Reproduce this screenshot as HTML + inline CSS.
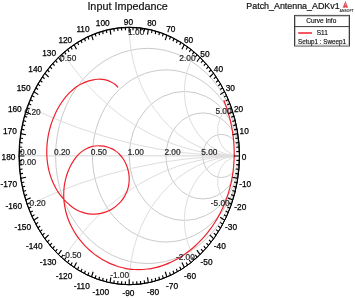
<!DOCTYPE html>
<html><head><meta charset="utf-8"><title>Input Impedance</title>
<style>
html,body{margin:0;padding:0;background:#fff;}
body{width:355px;height:298px;overflow:hidden;}
svg{display:block;filter:blur(0.3px);}
text{font-family:"Liberation Sans",Arial,sans-serif;}
.ang{font-size:8.3px;fill:#000;text-anchor:middle;stroke:#000;stroke-width:0.25px;}
.inn{font-size:8.3px;fill:#262626;stroke:#262626;stroke-width:0.2px;}
.leg{font-size:6.5px;fill:#111;text-anchor:middle;stroke:#111;stroke-width:0.15px;}
</style></head><body>
<svg width="355" height="298" viewBox="0 0 355 298">
<rect width="355" height="298" fill="#fff"/>

<g fill="none" stroke-width="1">
<line x1="18.8" y1="155.85" x2="239.6" y2="155.85" stroke="#d4d4d4"/>
<ellipse cx="147.6" cy="155.95" rx="92" ry="107.58" stroke="#cacaca"/>
<ellipse cx="166" cy="155.95" rx="73.6" ry="86.07" stroke="#cacaca"/>
<ellipse cx="184.4" cy="155.95" rx="55.2" ry="64.55" stroke="#cacaca"/>
<ellipse cx="202.8" cy="155.95" rx="36.8" ry="43.03" stroke="#cacaca"/>
<ellipse cx="221.2" cy="155.95" rx="18.4" ry="21.52" stroke="#cacaca"/>
<path d="M239.6 155.95 A552 645.5 0 0 1 27.29 106.3" stroke="#dfdddd"/>
<path d="M239.6 155.95 A552 645.5 0 0 0 27.29 205.6" stroke="#dfdddd"/>
<path d="M239.6 155.95 A220.8 258.2 0 0 1 62.96 52.67" stroke="#dfdddd"/>
<path d="M239.6 155.95 A220.8 258.2 0 0 0 62.96 259.23" stroke="#dfdddd"/>
<path d="M239.6 155.95 A110.4 129.1 0 0 1 129.2 26.85" stroke="#dfdddd"/>
<path d="M239.6 155.95 A110.4 129.1 0 0 0 129.2 285.05" stroke="#dfdddd"/>
<path d="M239.6 155.95 A55.2 64.55 0 0 1 195.44 52.67" stroke="#dfdddd"/>
<path d="M239.6 155.95 A55.2 64.55 0 0 0 195.44 259.23" stroke="#dfdddd"/>
<path d="M239.6 155.95 A22.08 25.82 0 0 1 231.11 106.3" stroke="#dfdddd"/>
<path d="M239.6 155.95 A22.08 25.82 0 0 0 231.11 205.6" stroke="#dfdddd"/>
</g>
<path d="M223.81 100.33C224.08 101.03 224.92 103.13 225.44 104.54C225.96 105.95 226.46 107.37 226.93 108.8C227.41 110.23 227.86 111.67 228.29 113.11C228.72 114.55 229.13 116 229.51 117.46C229.9 118.91 230.26 120.37 230.59 121.84C230.93 123.31 231.25 124.78 231.54 126.25C231.83 127.73 232.1 129.21 232.34 130.69C232.58 132.17 232.8 133.66 233 135.15C233.2 136.64 233.37 138.13 233.52 139.63C233.67 141.12 233.8 142.62 233.9 144.11C234 145.61 234.08 147.11 234.13 148.61C234.19 150.1 234.22 151.6 234.23 153.1C234.23 154.6 234.21 156.1 234.17 157.6C234.13 159.09 234.06 160.59 233.97 162.08C233.88 163.57 233.77 165.07 233.63 166.55C233.49 168.04 233.32 169.53 233.13 171.01C232.95 172.49 232.73 173.97 232.49 175.45C232.26 176.92 231.99 178.39 231.7 179.86C231.42 181.32 231.1 182.78 230.77 184.23C230.43 185.69 230.06 187.13 229.68 188.58C229.29 190.02 228.88 191.45 228.44 192.88C228 194.3 227.53 195.72 227.05 197.13C226.56 198.54 226.04 199.95 225.5 201.34C224.96 202.73 224.39 204.12 223.8 205.49C223.21 206.87 222.59 208.23 221.95 209.59C221.31 210.94 220.64 212.28 219.94 213.62C219.25 214.95 218.53 216.27 217.78 217.58C217.04 218.88 216.26 220.18 215.47 221.46C214.67 222.74 213.85 224.01 213 225.26C212.15 226.51 211.28 227.75 210.39 228.97C209.5 230.19 208.58 231.39 207.64 232.57C206.7 233.75 205.74 234.92 204.75 236.06C203.77 237.21 202.76 238.33 201.73 239.44C200.71 240.54 199.66 241.62 198.59 242.68C197.52 243.74 196.43 244.77 195.32 245.79C194.21 246.8 193.08 247.78 191.93 248.74C190.78 249.7 189.62 250.64 188.43 251.55C187.24 252.45 186.04 253.33 184.82 254.19C183.6 255.04 182.36 255.86 181.1 256.65C179.85 257.44 178.57 258.2 177.28 258.93C175.99 259.66 174.69 260.36 173.36 261.02C172.04 261.69 170.7 262.32 169.34 262.91C167.98 263.51 166.6 264.07 165.2 264.59C163.81 265.12 162.39 265.61 160.96 266.06C159.53 266.51 158.07 266.92 156.6 267.3C155.14 267.67 153.65 268 152.15 268.29C150.65 268.58 149.14 268.83 147.63 269.03C146.12 269.23 144.6 269.38 143.08 269.49C141.56 269.59 140.04 269.65 138.53 269.65C137.02 269.65 135.51 269.6 134.01 269.5C132.51 269.4 131.02 269.25 129.54 269.05C128.06 268.86 126.58 268.61 125.12 268.31C123.66 268.02 122.2 267.67 120.77 267.29C119.33 266.9 117.9 266.46 116.49 265.99C115.08 265.51 113.68 264.99 112.3 264.43C110.92 263.87 109.56 263.26 108.21 262.62C106.87 261.98 105.54 261.29 104.23 260.57C102.93 259.85 101.64 259.09 100.38 258.3C99.11 257.5 97.87 256.67 96.65 255.8C95.43 254.94 94.23 254.03 93.06 253.1C91.89 252.17 90.75 251.2 89.63 250.2C88.52 249.2 87.42 248.17 86.36 247.12C85.3 246.06 84.27 244.97 83.27 243.86C82.27 242.74 81.3 241.6 80.36 240.43C79.43 239.26 78.52 238.07 77.65 236.85C76.78 235.64 75.95 234.39 75.15 233.13C74.35 231.87 73.59 230.58 72.87 229.28C72.14 227.97 71.46 226.64 70.81 225.3C70.16 223.96 69.56 222.59 68.99 221.21C68.43 219.83 67.91 218.44 67.43 217.03C66.95 215.61 66.52 214.19 66.13 212.75C65.74 211.31 65.39 209.86 65.1 208.39C64.8 206.93 64.55 205.45 64.35 203.97C64.14 202.49 63.99 201 63.88 199.51C63.78 198.02 63.72 196.51 63.72 195.01C63.71 193.51 63.76 192.01 63.85 190.51C63.95 189.01 64.09 187.51 64.3 186.01C64.5 184.52 64.75 183.02 65.05 181.54C65.36 180.05 65.72 178.57 66.14 177.11C66.55 175.64 67.02 174.18 67.55 172.73C68.08 171.29 68.66 169.85 69.3 168.44C69.94 167.03 70.63 165.62 71.39 164.27C72.14 162.91 72.95 161.58 73.81 160.31C74.67 159.04 75.59 157.8 76.57 156.65C77.54 155.5 78.57 154.4 79.65 153.39C80.73 152.39 81.87 151.45 83.05 150.62C84.24 149.79 85.49 149.05 86.78 148.43C88.07 147.81 89.42 147.29 90.8 146.89C92.18 146.49 93.6 146.19 95.03 146.01C96.46 145.82 97.93 145.75 99.38 145.78C100.83 145.8 102.3 145.94 103.73 146.18C105.17 146.42 106.61 146.77 107.99 147.22C109.38 147.66 110.76 148.22 112.06 148.87C113.37 149.52 114.65 150.28 115.84 151.13C117.03 151.99 118.17 152.95 119.22 153.99C120.27 155.04 121.26 156.18 122.15 157.39C123.05 158.59 123.88 159.89 124.61 161.23C125.35 162.56 126.01 163.97 126.57 165.41C127.14 166.84 127.62 168.33 128.01 169.83C128.4 171.34 128.7 172.88 128.9 174.41C129.1 175.95 129.21 177.51 129.22 179.04C129.23 180.58 129.14 182.12 128.94 183.63C128.75 185.14 128.45 186.63 128.05 188.08C127.66 189.53 127.15 190.95 126.57 192.33C125.98 193.7 125.3 195.04 124.54 196.32C123.78 197.61 122.94 198.85 122.02 200.03C121.11 201.21 120.12 202.34 119.07 203.4C118.03 204.46 116.91 205.47 115.74 206.4C114.57 207.32 113.34 208.19 112.08 208.97C110.81 209.74 109.49 210.45 108.14 211.07C106.79 211.68 105.39 212.22 103.97 212.66C102.56 213.1 101.1 213.45 99.64 213.7C98.18 213.95 96.68 214.11 95.2 214.17C93.71 214.23 92.21 214.2 90.72 214.07C89.24 213.94 87.74 213.72 86.28 213.41C84.82 213.1 83.37 212.69 81.96 212.19C80.55 211.7 79.16 211.1 77.81 210.43C76.47 209.76 75.16 208.99 73.9 208.16C72.63 207.34 71.4 206.42 70.22 205.47C69.04 204.52 67.89 203.49 66.8 202.44C65.7 201.39 64.65 200.28 63.65 199.16C62.65 198.03 61.69 196.87 60.78 195.69C59.87 194.5 59 193.29 58.19 192.05C57.37 190.81 56.6 189.55 55.87 188.26C55.14 186.98 54.46 185.67 53.82 184.34C53.19 183.01 52.59 181.66 52.05 180.3C51.5 178.93 50.99 177.54 50.53 176.14C50.07 174.74 49.65 173.32 49.28 171.9C48.9 170.47 48.57 169.02 48.28 167.57C47.99 166.11 47.74 164.65 47.53 163.17C47.33 161.7 47.16 160.21 47.04 158.72C46.91 157.24 46.83 155.74 46.79 154.24C46.74 152.74 46.74 151.23 46.78 149.73C46.81 148.22 46.89 146.71 47 145.2C47.12 143.7 47.27 142.19 47.47 140.68C47.66 139.18 47.89 137.68 48.16 136.18C48.43 134.69 48.74 133.19 49.08 131.71C49.42 130.23 49.8 128.75 50.22 127.28C50.64 125.82 51.09 124.36 51.58 122.91C52.07 121.47 52.6 120.04 53.16 118.62C53.72 117.2 54.32 115.8 54.95 114.41C55.58 113.02 56.25 111.65 56.95 110.3C57.65 108.95 58.38 107.62 59.15 106.31C59.92 105.01 60.73 103.73 61.57 102.48C62.41 101.23 63.28 100 64.19 98.82C65.11 97.64 66.05 96.48 67.04 95.38C68.02 94.27 69.04 93.2 70.1 92.17C71.16 91.15 72.26 90.17 73.39 89.24C74.53 88.32 75.7 87.44 76.91 86.62C78.12 85.79 79.36 85.03 80.65 84.32C81.94 83.62 83.26 82.97 84.63 82.39C85.99 81.81 87.4 81.29 88.83 80.86C90.26 80.43 91.73 80.06 93.2 79.79C94.67 79.53 96.17 79.34 97.65 79.27C99.13 79.19 100.63 79.21 102.1 79.36C103.56 79.5 105.03 79.75 106.46 80.14C107.88 80.53 109.29 81.03 110.65 81.69C112 82.34 113.33 83.13 114.59 84.08C115.84 85.03 117.59 86.84 118.19 87.39" fill="none" stroke="#f0202c" stroke-width="1.2" stroke-linejoin="round"/>
<path d="M239.5 155.95L234 155.95M239.43 151.45L236.34 151.58M239.23 146.97L236.14 147.22M238.9 142.49L235.82 142.86M238.43 138.02L235.37 138.53M237.82 133.58L232.44 134.69M237.09 129.17L234.08 129.92M236.22 124.79L233.25 125.66M235.23 120.45L232.29 121.43M234.1 116.15L231.2 117.25M232.85 111.9L227.79 114.05M231.47 107.7L228.66 109.02M229.96 103.56L227.21 104.99M228.34 99.49L225.64 101.02M226.59 95.48L223.96 97.12M224.72 91.55L220.16 94.62M222.74 87.7L220.24 89.52M220.64 83.93L218.21 85.84M218.43 80.24L216.07 82.25M216.12 76.65L213.83 78.74M213.69 73.16L209.77 77.01M211.17 69.77L209.03 72.01M208.54 66.48L206.49 68.8M205.82 63.3L203.85 65.69M203.01 60.23L201.11 62.69M200.1 57.28L196.89 61.75M197.11 54.45L195.38 57.03M194.03 51.75L192.4 54.38M190.88 49.17L189.33 51.85M187.65 46.72L186.19 49.45M184.35 44.41L181.91 49.34M180.98 42.23L179.7 45.05M177.55 40.19L176.36 43.05M174.06 38.29L172.96 41.18M170.52 36.53L169.51 39.46M166.92 34.92L165.29 40.17M163.28 33.45L162.45 36.44M159.6 32.14L158.86 35.15M155.88 30.98L155.24 34.01M152.13 29.96L151.58 33.01M148.35 29.11L147.53 34.55M144.55 28.4L144.18 31.48M140.73 27.86L140.45 30.94M136.89 27.46L136.71 30.56M133.05 27.23L132.96 30.33M129.2 27.15L129.2 32.65M125.35 27.23L125.44 30.33M121.51 27.46L121.69 30.56M117.67 27.86L117.95 30.94M113.85 28.4L114.22 31.48M110.05 29.11L110.87 34.55M106.27 29.96L106.82 33.01M102.52 30.98L103.16 34.01M98.8 32.14L99.54 35.15M95.12 33.45L95.95 36.44M91.48 34.92L93.11 40.17M87.88 36.53L88.89 39.46M84.34 38.29L85.44 41.18M80.85 40.19L82.04 43.05M77.42 42.23L78.7 45.05M74.05 44.41L76.49 49.34M70.75 46.72L72.21 49.45M67.52 49.17L69.07 51.85M64.37 51.75L66 54.38M61.29 54.45L63.02 57.03M58.3 57.28L61.51 61.75M55.39 60.23L57.29 62.69M52.58 63.3L54.55 65.69M49.86 66.48L51.91 68.8M47.23 69.77L49.37 72.01M44.71 73.16L48.63 77.01M42.28 76.65L44.57 78.74M39.97 80.24L42.33 82.25M37.76 83.93L40.19 85.84M35.66 87.7L38.16 89.52M33.68 91.55L38.24 94.62M31.81 95.48L34.44 97.12M30.06 99.49L32.76 101.02M28.44 103.56L31.19 104.99M26.93 107.7L29.74 109.02M25.55 111.9L30.61 114.05M24.3 116.15L27.2 117.25M23.17 120.45L26.11 121.43M22.18 124.79L25.15 125.66M21.31 129.17L24.32 129.92M20.58 133.58L25.96 134.69M19.97 138.02L23.03 138.53M19.5 142.49L22.58 142.86M19.17 146.97L22.26 147.22M18.97 151.45L22.06 151.58M18.9 155.95L24.4 155.95M18.97 160.45L22.06 160.32M19.17 164.93L22.26 164.68M19.5 169.41L22.58 169.04M19.97 173.88L23.03 173.37M20.58 178.32L25.96 177.21M21.31 182.73L24.32 181.98M22.18 187.11L25.15 186.24M23.17 191.45L26.11 190.47M24.3 195.75L27.2 194.65M25.55 200L30.61 197.85M26.93 204.2L29.74 202.88M28.44 208.34L31.19 206.91M30.06 212.41L32.76 210.88M31.81 216.42L34.44 214.78M33.68 220.35L38.24 217.28M35.66 224.2L38.16 222.38M37.76 227.97L40.19 226.06M39.97 231.66L42.33 229.65M42.28 235.25L44.57 233.16M44.71 238.74L48.63 234.89M47.23 242.13L49.37 239.89M49.86 245.42L51.91 243.1M52.58 248.6L54.55 246.21M55.39 251.67L57.29 249.21M58.3 254.62L61.51 250.15M61.29 257.45L63.02 254.87M64.37 260.15L66 257.52M67.52 262.73L69.07 260.05M70.75 265.18L72.21 262.45M74.05 267.49L76.49 262.56M77.42 269.67L78.7 266.85M80.85 271.71L82.04 268.85M84.34 273.61L85.44 270.72M87.88 275.37L88.89 272.44M91.48 276.98L93.11 271.73M95.12 278.45L95.95 275.46M98.8 279.76L99.54 276.75M102.52 280.92L103.16 277.89M106.27 281.94L106.82 278.89M110.05 282.79L110.87 277.35M113.85 283.5L114.22 280.42M117.67 284.04L117.95 280.96M121.51 284.44L121.69 281.34M125.35 284.67L125.44 281.57M129.2 284.75L129.2 279.25M133.05 284.67L132.96 281.57M136.89 284.44L136.71 281.34M140.73 284.04L140.45 280.96M144.55 283.5L144.18 280.42M148.35 282.79L147.53 277.35M152.13 281.94L151.58 278.89M155.88 280.92L155.24 277.89M159.6 279.76L158.86 276.75M163.28 278.45L162.45 275.46M166.92 276.98L165.29 271.73M170.52 275.37L169.51 272.44M174.06 273.61L172.96 270.72M177.55 271.71L176.36 268.85M180.98 269.67L179.7 266.85M184.35 267.49L181.91 262.56M187.65 265.18L186.19 262.45M190.88 262.73L189.33 260.05M194.03 260.15L192.4 257.52M197.11 257.45L195.38 254.87M200.1 254.62L196.89 250.15M203.01 251.67L201.11 249.21M205.82 248.6L203.85 246.21M208.54 245.42L206.49 243.1M211.17 242.13L209.03 239.89M213.69 238.74L209.77 234.89M216.12 235.25L213.83 233.16M218.43 231.66L216.07 229.65M220.64 227.97L218.21 226.06M222.74 224.2L220.24 222.38M224.72 220.35L220.16 217.28M226.59 216.42L223.96 214.78M228.34 212.41L225.64 210.88M229.96 208.34L227.21 206.91M231.47 204.2L228.66 202.88M232.85 200L227.79 197.85M234.1 195.75L231.2 194.65M235.23 191.45L232.29 190.47M236.22 187.11L233.25 186.24M237.09 182.73L234.08 181.98M237.82 178.32L232.44 177.21M238.43 173.88L235.37 173.37M238.9 169.41L235.82 169.04M239.23 164.93L236.14 164.68M239.43 160.45L236.34 160.32" stroke="#000" stroke-width="1.15" fill="none"/>
<ellipse cx="129.2" cy="155.95" rx="110.3" ry="128.8" fill="none" stroke="#000" stroke-width="1"/>
<ellipse cx="129.35" cy="156.1" rx="110.1" ry="128.6" fill="none" stroke="#000" stroke-width="1"/>
<g class="ang">
<text x="128.45" y="24.85">90</text>
<text x="102.7" y="26.35">100</text>
<text x="83" y="32.35">110</text>
<text x="65.3" y="43.4">120</text>
<text x="49.1" y="55.9">130</text>
<text x="35.25" y="72.4">140</text>
<text x="23.65" y="91.05">150</text>
<text x="14.8" y="112.2">160</text>
<text x="9.9" y="133.85">170</text>
<text x="8.45" y="160.05">180</text>
<text x="8.7" y="187.4">-170</text>
<text x="13.75" y="209.1">-160</text>
<text x="22.75" y="230.3">-150</text>
<text x="34.25" y="249.05">-140</text>
<text x="48.15" y="264.85">-130</text>
<text x="64.05" y="278.8">-120</text>
<text x="81.8" y="289.15">-110</text>
<text x="100.7" y="295.1">-100</text>
<text x="128.4" y="296.35">-90</text>
<text x="153.1" y="295.1">-80</text>
<text x="172.05" y="289.15">-70</text>
<text x="190.1" y="278.65">-60</text>
<text x="206.5" y="264.75">-50</text>
<text x="219.75" y="248.65">-40</text>
<text x="231.05" y="230.1">-30</text>
<text x="240.3" y="209.6">-20</text>
<text x="245.15" y="187.1">-10</text>
<text x="244" y="159.8">0</text>
<text x="244.15" y="134">10</text>
<text x="238.6" y="112.45">20</text>
<text x="230.3" y="91.05">30</text>
<text x="218.45" y="72.4">40</text>
<text x="204.9" y="56.55">50</text>
<text x="188.5" y="42.85">60</text>
<text x="170.8" y="32.35">70</text>
<text x="151.8" y="26.35">80</text>
</g>
<g class="inn" text-anchor="middle">
<text x="28.05" y="155.1">0.00</text>
<text x="28.05" y="164.5">0.00</text>
<text x="62.1" y="155.2">0.20</text>
<text x="98.9" y="155.2">0.50</text>
<text x="135.8" y="155.2">1.00</text>
<text x="172.5" y="155.2">2.00</text>
<text x="209.3" y="155.2">5.00</text>
<text x="32.65" y="114.8">0.20</text>
<text x="68.2" y="60.9">0.50</text>
<text x="136.2" y="34.7">1.00</text>
<text x="187.45" y="60.65">2.00</text>
<text x="223.5" y="114.4">5.00</text>
<text x="36.3" y="205.6">-0.20</text>
<text x="72" y="258.1">-0.50</text>
<text x="119.6" y="278.2">-1.00</text>
<text x="185.35" y="259.7">-2.00</text>
<text x="220.3" y="205.9">-5.00</text>
</g>
<text x="127.6" y="10.4" font-size="10.8" text-anchor="middle" fill="#111" stroke="#111" stroke-width="0.2">Input Impedance</text>
<text x="339.6" y="9.3" font-size="8.9" text-anchor="end" fill="#111" stroke="#111" stroke-width="0.2">Patch_Antenna_ADKv1</text>
<g><path d="M345.4 0.9 L348.2 8.1 L347 7.4 L346.4 8.1 L345.4 6.9 L344.4 8.1 L343.8 7.4 L342.6 8.1 Z" fill="#dc4a50"/><path d="M345.4 2.6 L346 5.6 L344.8 5.6 Z" fill="#f0a0a4"/><text x="346.6" y="11.6" font-size="3.4" font-weight="bold" text-anchor="middle" fill="#222">ANSOFT</text></g>
<rect x="294.5" y="15.4" width="55" height="30.6" fill="#fff" stroke="#3c3c3c" stroke-width="1"/>
<rect x="295.5" y="16.4" width="53" height="28.6" fill="none" stroke="#c8c8c8" stroke-width="1"/>
<line x1="294.5" y1="26.6" x2="349.5" y2="26.6" stroke="#3c3c3c" stroke-width="1"/>
<g class="leg"><text x="321.3" y="23.2">Curve Info</text><text x="322.3" y="35.4">S11</text><text x="322" y="43.6" font-size="6.3">Setup1 : Sweep1</text></g>
<line x1="298.2" y1="33.0" x2="312" y2="33.0" stroke="#f0202c" stroke-width="1.5"/>
</svg></body></html>
